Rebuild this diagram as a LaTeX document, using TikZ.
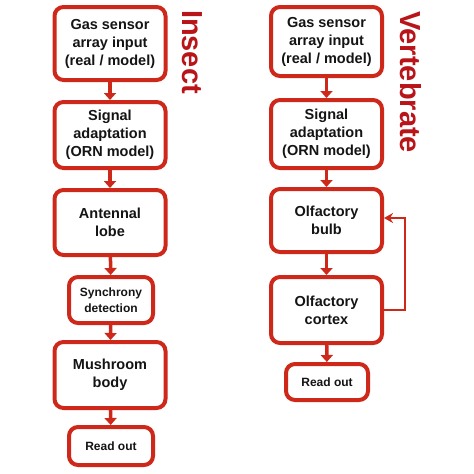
\documentclass[tikz,border=0pt]{standalone}
\usepackage{fontspec}
\setmainfont{Liberation Sans}
\usetikzlibrary{arrows.meta,shadows}
\definecolor{flowred}{RGB}{205,40,25}
\definecolor{titlered}{RGB}{185,20,25}
\definecolor{txtgray}{RGB}{20,20,20}
\begin{document}
\begin{tikzpicture}[x=1pt, y=-1pt, >={Triangle[width=12pt,length=7pt]},
  box/.style={draw=flowred, line width=4pt, rounded corners=9pt, fill=white,
    align=center, inner sep=0pt, text=txtgray,
    font=\fontsize{14.5}{18}\selectfont\bfseries,
    drop shadow={shadow xshift=1pt, shadow yshift=-1.5pt, opacity=0.35}},
  wide/.style={box, minimum width=111pt},
  narrow/.style={box, font=\fontsize{12}{16}\selectfont\bfseries, minimum width=84pt},
  flow/.style={draw=flowred, line width=3.5pt, ->},
  title/.style={text=titlered, font=\fontsize{29}{29}\selectfont\bfseries, rotate=-90}]
  \useasboundingbox (0,0) rectangle (474,474);

  % insect
  \node [wide, minimum height=73pt] (ins1) at (110,43.5) {Gas sensor\\array input\\(real / model)};
  \node [wide, minimum height=66pt] (ins2) at (110,135)  {Signal\\adaptation\\(ORN model)};
  \node [wide, minimum height=65pt] (ins3) at (110,222.5) {Antennal\\lobe};
  \node [narrow, minimum height=46pt] (ins4) at (111,300) {Synchrony\\detection};
  \node [wide, minimum height=66pt] (ins5) at (110,375)  {Mushroom\\body};
  \node [narrow, minimum height=38pt] (ins6) at (111,446) {Read out};
  \node [title] at (192,52) {Insect};

  \foreach \a/\b in {ins1/ins2, ins2/ins3, ins3/ins4, ins4/ins5, ins5/ins6}
    \draw [flow] (\a) -- (\b);

  % vertebrate
  \node [wide, minimum height=69pt] (ver1) at (326.5,41.5) {Gas sensor\\array input\\(real / model)};
  \node [wide, minimum height=68pt] (ver2) at (326.5,134)  {Signal\\adaptation\\(ORN model)};
  \node [wide, minimum height=63pt] (ver3) at (326.5,220.5) {Olfactory\\bulb};
  \node [wide, minimum height=66pt] (ver4) at (326.5,310)  {Olfactory\\cortex};
  \node [narrow, minimum width=82pt, minimum height=36pt] (ver5) at (327,382) {Read out};
  \node [title] at (411,82) {Vertebrate};

  \foreach \a/\b in {ver1/ver2, ver2/ver3, ver3/ver4, ver4/ver5}
    \draw [flow] (\a) -- (\b);

  % feedback loop
  \draw [draw=flowred, line width=2pt, -{Stealth[length=9pt,width=10pt]}]
    (ver4.east) -- ++(21,0) |- ([yshift=2.5pt]ver3.east);
\end{tikzpicture}
\end{document}
